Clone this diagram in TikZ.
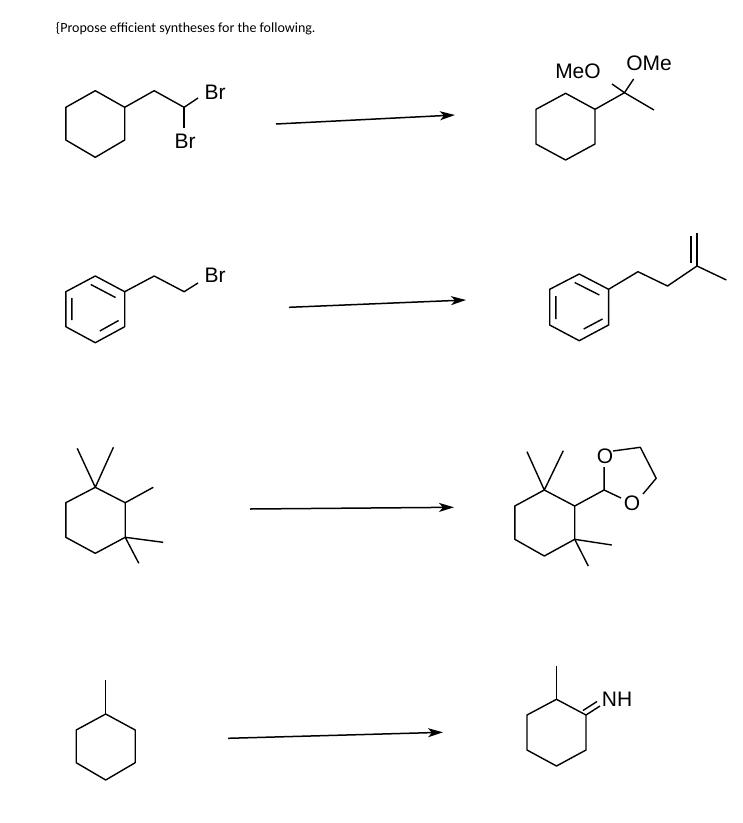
\documentclass[tikz,border=0pt]{standalone}
\usepackage{fontspec}
\setmainfont{Liberation Sans}
\newfontfamily\titlefont{Carlito}
\usetikzlibrary{arrows.meta}
\begin{document}
\begin{tikzpicture}[x=1pt,y=-1pt,line width=1.2pt,line join=round,
  bd/.style={line width=1.4pt},
  lbl/.style={font=\fontsize{21}{21}\selectfont,inner sep=1pt},
  rxn/.style={line width=1.5pt,-{Stealth[length=15pt,width=9pt,inset=4pt]}}]
\useasboundingbox (0,0) rectangle (743,823);
\node[anchor=west,font=\titlefont\fontsize{14}{14}\selectfont] (title) at (52,29) {\{Propose efficient syntheses for the following.};
% Molecule 1
\draw[bd] (95.3,90.7)--(124.7,107.3)--(124.7,140)--(95.3,157.3)--(65.8,140)--(65.8,107.3)--cycle;
\draw[bd] (124.7,107.3)--(154.2,90.7)--(184.1,107.3)--(198,98);
\draw[bd] (184.1,107.3)--(184.1,128);
\node[lbl] (br1) at (215,92) {Br};
\node[lbl] (br2) at (185,141) {Br};
\coordinate (a1s) at (276,124); \coordinate (a1e) at (455,115);
\draw[rxn] (a1s)--(a1e);
\draw[bd] (565.6,93.3)--(595,109.3)--(595,144)--(565.6,160)--(536,144)--(536,109.3)--cycle;
\draw[bd] (595,109.3)--(624.5,92.7)--(654,110);
\draw[bd] (624.5,92.7)--(612,84);
\draw[bd] (624.5,92.7)--(633.6,79);
\node[lbl] (meo) at (578,71.7) {MeO};
\node[lbl] (ome) at (649,63) {OMe};
% Molecule 2
\draw[bd] (95.3,276)--(124.7,291.7)--(124.7,326.7)--(95.3,342.7)--(65.8,326.7)--(65.8,291.7)--cycle;
\draw[bd] (90.8,284.5)--(115.5,297.5) (118.6,320.5)--(99.8,331) (71.9,320)--(71.9,298);
\draw[bd] (124.7,291.7)--(154.2,276)--(184.1,291.7)--(198,283);
\node[lbl] (br3) at (215,275) {Br};
\coordinate (a2s) at (289,307.3); \coordinate (a2e) at (466,300);
\draw[rxn] (a2s)--(a2e);
\draw[bd] (579.2,274)--(608.6,289.3)--(608.6,325)--(579.2,340.7)--(549.7,325)--(549.7,289.3)--cycle;
\draw[bd] (574.7,282.5)--(599.4,295) (602.5,319)--(583.7,329) (555.8,319)--(555.8,296);
\draw[bd] (608.6,289.3)--(638,271.7)--(667.5,286)--(697,266)--(726.4,280);
\draw[bd] (697,266)--(697,233) (691,263)--(691,236);
% Molecule 3
\draw[bd] (95.3,487.3)--(125.2,502.7)--(125.2,537.3)--(95.3,553.3)--(65.8,537.3)--(65.8,502.7)--cycle;
\draw[bd] (95.3,487.3)--(77.2,448.3) (95.3,487.3)--(113.4,447.3);
\draw[bd] (125.2,502.7)--(153.3,487.3);
\draw[bd] (125.2,537.3)--(163.2,542.3) (125.2,537.3)--(138.8,563.3);
\coordinate (a3s) at (250,509); \coordinate (a3e) at (454,507.3);
\draw[rxn] (a3s)--(a3e);
\draw[bd] (544.3,490)--(574.7,506)--(574.7,539.3)--(544.3,556)--(514.8,539.3)--(514.8,506)--cycle;
\draw[bd] (544.3,490)--(527,451.7) (544.3,490)--(563.3,450.7);
\draw[bd] (574.7,539.3)--(611.8,545) (574.7,539.3)--(588.3,566);
\draw[bd] (574.7,506)--(604.1,490)--(604.1,467);
\draw[bd] (604.1,490)--(621,498);
\draw[bd] (613,451)--(640.3,447.3)--(656.2,478.3)--(643,494);
\node[lbl] (o1) at (605,456) {O};
\node[lbl] (o2) at (632,503) {O};
% Molecule 4
\draw[bd] (105.7,714)--(135.2,730)--(135.2,762.7)--(105.7,780)--(76.2,762.7)--(76.2,730)--cycle;
\draw[bd] (105.7,714)--(105.7,680);
\coordinate (a4s) at (228,738.3); \coordinate (a4e) at (443,732.3);
\draw[rxn] (a4s)--(a4e);
\draw[bd] (556.5,699.3)--(586,715)--(586,750)--(556.5,766)--(527,750)--(527,715)--cycle;
\draw[bd] (556.5,699.3)--(556.5,666);
\draw[bd] (586,715)--(600,706) (583,710.5)--(597,701.5);
\node[lbl] (nh) at (617,699) {NH};
\end{tikzpicture}
\end{document}
